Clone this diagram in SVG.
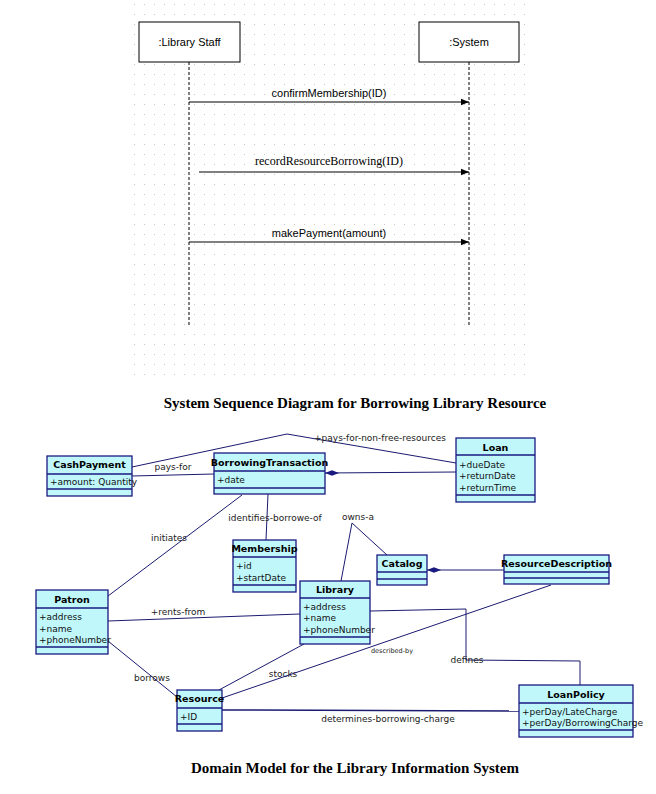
<svg xmlns="http://www.w3.org/2000/svg" width="656" height="794" viewBox="0 0 656 794">
<style>
.sb{fill:#fff;stroke:#000;stroke-width:1}
.ll{stroke:#000;stroke-dasharray:3,2}
.msg{stroke:#000;stroke-width:1}
.st{font-family:"Liberation Sans",Arial,sans-serif;font-size:11px;fill:#000}
.sr{font-family:"Liberation Serif",serif;font-size:12px;fill:#000}
.title{font-family:"Liberation Serif",serif;font-size:15px;font-weight:bold;fill:#000}
.cls{fill:#bff7fb;stroke:#1a1a80;stroke-width:1.3}
.cl{stroke:#1a1a80;stroke-width:1.3}
.cn{font-family:"DejaVu Sans",sans-serif;font-size:9.5px;font-weight:bold;fill:#000}
.ca{font-family:"DejaVu Sans",sans-serif;font-size:9px;fill:#111}
.con{fill:none;stroke:#1a1a70;stroke-width:1}
.lb{font-family:"DejaVu Sans",sans-serif;font-size:9px;fill:#222}
</style>
<defs>
<pattern id="dots" width="10" height="10" patternUnits="userSpaceOnUse"><rect x="4" y="4" width="1" height="1" fill="#c8c8c8"/></pattern>
<marker id="arr" viewBox="0 0 10 10" refX="10" refY="5" markerWidth="8" markerHeight="8" orient="auto" markerUnits="userSpaceOnUse"><path d="M0,1 L10,5 L0,9 Z" fill="#000"/></marker>
<marker id="dia" viewBox="0 0 20 10" refX="0" refY="5" markerWidth="14" markerHeight="7" orient="auto" markerUnits="userSpaceOnUse"><path d="M0,5 L10,1 L20,5 L10,9 Z" fill="#1a1a80"/></marker>
</defs>
<rect width="656" height="794" fill="#fff"/>
<rect x="130" y="0" width="400" height="380" fill="url(#dots)"/>
<g id="staff"><rect class="sb" x="139" y="22" width="101" height="40"/><text class="st" x="189.5" y="46" text-anchor="middle">:Library Staff</text><line class="ll" x1="189" y1="62" x2="189" y2="326"/></g>
<g id="system"><rect class="sb" x="419" y="22" width="100" height="40"/><text class="st" x="469" y="46" text-anchor="middle">:System</text><line class="ll" x1="469" y1="62" x2="469" y2="326"/></g>
<g id="messages">
<line class="msg" x1="189" y1="102" x2="469" y2="102" marker-end="url(#arr)"/><text class="st" x="329" y="97" text-anchor="middle">confirmMembership(ID)</text>
<line class="msg" x1="199" y1="172" x2="469" y2="172" marker-end="url(#arr)"/><text class="sr" x="329" y="165" text-anchor="middle">recordResourceBorrowing(ID)</text>
<line class="msg" x1="189" y1="242" x2="469" y2="242" marker-end="url(#arr)"/><text class="st" x="329" y="237" text-anchor="middle">makePayment(amount)</text>
</g>
<text class="title" x="355" y="408" text-anchor="middle">System Sequence Diagram for Borrowing Library Resource</text>

<g id="connectors">
<polyline class="con" points="132,467 287,434 456,463"/><text class="lb" x="380" y="441" text-anchor="middle">+pays-for-non-free-resources</text>
<line class="con" x1="132" y1="476" x2="214" y2="474"/><text class="lb" x="173" y="470" text-anchor="middle">pays-for</text>
<line class="con" x1="325" y1="473" x2="456" y2="472" marker-start="url(#dia)"/>
<line class="con" x1="242" y1="495" x2="108" y2="596"/><text class="lb" x="169" y="541" text-anchor="middle">initiates</text>
<line class="con" x1="268" y1="494" x2="266" y2="540"/><text class="lb" x="275" y="521" text-anchor="middle">identifies-borrowe-of</text>
<polyline class="con" points="341,581 352,523 387,555"/><text class="lb" x="358" y="520" text-anchor="middle">owns-a</text>
<line class="con" x1="427" y1="570" x2="504" y2="570" marker-start="url(#dia)"/>
<line class="con" x1="108" y1="621" x2="300" y2="614"/><text class="lb" x="178" y="615" text-anchor="middle">+rents-from</text>
<line class="con" x1="108" y1="641" x2="177" y2="697"/><text class="lb" x="152" y="681" text-anchor="middle">borrows</text>
<line class="con" x1="304" y1="644" x2="219" y2="690"/><text class="lb" x="283" y="677" text-anchor="middle">stocks</text>
<line class="con" x1="551" y1="585" x2="222" y2="698"/><text class="lb" x="392" y="653" text-anchor="middle" style="font-size:6.5px">described-by</text>
<polyline class="con" points="370,611 466,609 466,660 580,661 580,685"/><text class="lb" x="467" y="663" text-anchor="middle">defines</text>
<line class="con" x1="222" y1="710" x2="519" y2="711" style="stroke-width:1.5"/><text class="lb" x="388" y="722" text-anchor="middle">determines-borrowing-charge</text>
</g>

<g id="CashPayment"><rect class="cls" x="47" y="456" width="85" height="40"/><line class="cl" x1="47" y1="474" x2="132" y2="474"/><line class="cl" x1="47" y1="489" x2="132" y2="489"/><text class="cn" x="89.5" y="468" text-anchor="middle">CashPayment</text><text class="ca" x="50" y="485">+amount: Quantity</text></g>
<g id="BorrowingTransaction"><rect class="cls" x="214" y="453" width="111" height="41"/><line class="cl" x1="214" y1="471" x2="325" y2="471"/><line class="cl" x1="214" y1="488" x2="325" y2="488"/><text class="cn" x="269.5" y="466" text-anchor="middle">BorrowingTransaction</text><text class="ca" x="217" y="483">+date</text></g>
<g id="Loan"><rect class="cls" x="456" y="438" width="79" height="64"/><line class="cl" x1="456" y1="455" x2="535" y2="455"/><line class="cl" x1="456" y1="495" x2="535" y2="495"/><text class="cn" x="495.5" y="451" text-anchor="middle">Loan</text><text class="ca" x="459" y="468">+dueDate</text><text class="ca" x="459" y="479">+returnDate</text><text class="ca" x="459" y="491">+returnTime</text></g>
<g id="Membership"><rect class="cls" x="233" y="540" width="63" height="52"/><line class="cl" x1="233" y1="557" x2="296" y2="557"/><line class="cl" x1="233" y1="585" x2="296" y2="585"/><text class="cn" x="264.5" y="552" text-anchor="middle">Membership</text><text class="ca" x="236" y="569">+id</text><text class="ca" x="236" y="581">+startDate</text></g>
<g id="Catalog"><rect class="cls" x="377" y="555" width="50" height="30"/><line class="cl" x1="377" y1="572" x2="427" y2="572"/><line class="cl" x1="377" y1="579" x2="427" y2="579"/><text class="cn" x="402" y="567" text-anchor="middle">Catalog</text></g>
<g id="ResourceDescription"><rect class="cls" x="504" y="555" width="105" height="29"/><line class="cl" x1="504" y1="572" x2="609" y2="572"/><line class="cl" x1="504" y1="578" x2="609" y2="578"/><text class="cn" x="556.5" y="567" text-anchor="middle">ResourceDescription</text></g>
<g id="Library"><rect class="cls" x="300" y="581" width="70" height="63"/><line class="cl" x1="300" y1="598" x2="370" y2="598"/><line class="cl" x1="300" y1="637" x2="370" y2="637"/><text class="cn" x="335" y="593" text-anchor="middle">Library</text><text class="ca" x="303" y="610">+address</text><text class="ca" x="303" y="621">+name</text><text class="ca" x="303" y="633">+phoneNumber</text></g>
<g id="Patron"><rect class="cls" x="36" y="590" width="72" height="64"/><line class="cl" x1="36" y1="608" x2="108" y2="608"/><line class="cl" x1="36" y1="647" x2="108" y2="647"/><text class="cn" x="72" y="603" text-anchor="middle">Patron</text><text class="ca" x="39" y="620">+address</text><text class="ca" x="39" y="632">+name</text><text class="ca" x="39" y="643">+phoneNumber</text></g>
<g id="Resource"><rect class="cls" x="177" y="690" width="45" height="41"/><line class="cl" x1="177" y1="708" x2="222" y2="708"/><line class="cl" x1="177" y1="724" x2="222" y2="724"/><text class="cn" x="199.5" y="702" text-anchor="middle">Resource</text><text class="ca" x="180" y="720">+ID</text></g>
<g id="LoanPolicy"><rect class="cls" x="519" y="685" width="114" height="52"/><line class="cl" x1="519" y1="703" x2="633" y2="703"/><line class="cl" x1="519" y1="730" x2="633" y2="730"/><text class="cn" x="576" y="698" text-anchor="middle">LoanPolicy</text><text class="ca" x="522" y="715">+perDay/LateCharge</text><text class="ca" x="522" y="726">+perDay/BorrowingCharge</text></g>

<text class="title" x="355" y="773" text-anchor="middle">Domain Model for the Library Information System</text>
</svg>
